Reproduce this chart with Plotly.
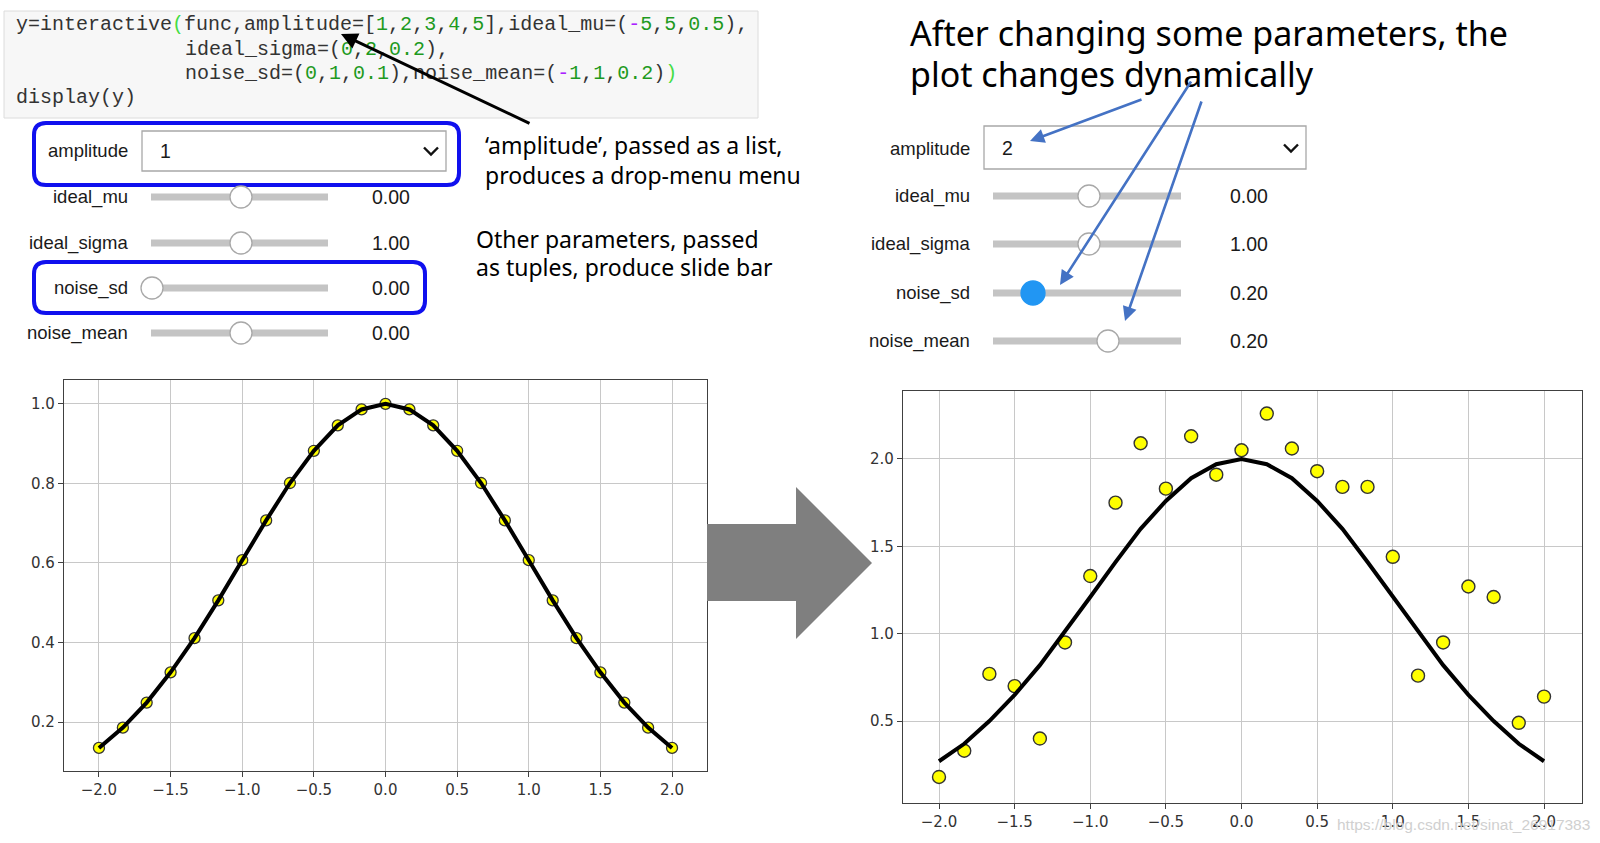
import plotly.graph_objects as go
from plotly.subplots import make_subplots

W, H = 1600, 843

# sample points (same x grid for both plots)
x_vals = [-2.0, -1.833, -1.667, -1.5, -1.333, -1.167, -1.0, -0.833, -0.667, -0.5, -0.333, -0.167,
          0.0, 0.167, 0.333, 0.5, 0.667, 0.833, 1.0, 1.167, 1.333, 1.5, 1.667, 1.833, 2.0]

# amplitude=1, no noise
left_ideal = [0.135, 0.186, 0.249, 0.325, 0.411, 0.506, 0.607, 0.707, 0.801, 0.882, 0.946, 0.986,
              1.0, 0.986, 0.946, 0.882, 0.801, 0.707, 0.607, 0.506, 0.411, 0.325, 0.249, 0.186, 0.135]
left_points = [0.135, 0.186, 0.249, 0.325, 0.411, 0.506, 0.607, 0.707, 0.801, 0.882, 0.946, 0.986,
               1.0, 0.986, 0.946, 0.882, 0.801, 0.707, 0.607, 0.506, 0.411, 0.325, 0.249, 0.186, 0.135]

# amplitude=2, noise_sd=0.2, noise_mean=0.2
right_ideal = [0.27, 0.37, 0.50, 0.65, 0.82, 1.01, 1.21, 1.41, 1.60, 1.76, 1.89, 1.97,
               2.0, 1.97, 1.89, 1.76, 1.60, 1.41, 1.21, 1.01, 0.82, 0.65, 0.50, 0.37, 0.27]
right_points = [0.18, 0.33, 0.77, 0.70, 0.40, 0.95, 1.33, 1.75, 2.09, 1.83, 2.13, 1.91,
                2.05, 2.26, 2.06, 1.93, 1.84, 1.84, 1.44, 0.76, 0.95, 1.27, 1.21, 0.49, 0.64]

x_ticks = [-2.0, -1.5, -1.0, -0.5, 0.0, 0.5, 1.0, 1.5, 2.0]
left_y_ticks = [0.2, 0.4, 0.6, 0.8, 1.0]
right_y_ticks = [0.5, 1.0, 1.5, 2.0]

# widget states
slider_names = ["ideal_mu", "ideal_sigma", "noise_sd", "noise_mean"]
left_amplitude = "1"
left_slider_vals = ["0.00", "1.00", "0.00", "0.00"]
right_amplitude = "2"
right_slider_vals = ["0.00", "1.00", "0.20", "0.20"]


def X(p):
    return p / W


def Y(p):
    return 1 - p / H


def lab(v):
    return f"{v:.1f}".replace("-", "\u2212")


fig = make_subplots(rows=1, cols=2)

fig.add_trace(go.Scatter(x=x_vals, y=left_points, mode="markers",
                         marker=dict(color="#ffff00", size=11, line=dict(color="#333333", width=1.3))),
              row=1, col=1)
fig.add_trace(go.Scatter(x=x_vals, y=left_ideal, mode="lines", line=dict(color="black", width=4)),
              row=1, col=1)
fig.add_trace(go.Scatter(x=x_vals, y=right_points, mode="markers",
                         marker=dict(color="#ffff00", size=13, line=dict(color="#333333", width=1.4))),
              row=1, col=2)
fig.add_trace(go.Scatter(x=x_vals, y=right_ideal, mode="lines", line=dict(color="black", width=4)),
              row=1, col=2)

axis_style = dict(showgrid=True, gridcolor="#c8c8c8", gridwidth=1, zeroline=False,
                  showline=True, linecolor="#404040", linewidth=1.4, mirror=True,
                  ticks="outside", ticklen=5, tickcolor="#404040",
                  tickfont=dict(family="DejaVu Sans", size=15, color="#333333"))

fig.update_xaxes(axis_style, tickvals=x_ticks, ticktext=[lab(v) for v in x_ticks])
fig.update_xaxes(domain=[X(64), X(707)], range=[-2.244, 2.244], row=1, col=1)
fig.update_yaxes(axis_style, domain=[Y(771), Y(380)], range=[0.077, 1.060],
                 tickvals=left_y_ticks, ticktext=[lab(v) for v in left_y_ticks], row=1, col=1)
fig.update_xaxes(domain=[X(903), X(1582)], range=[-2.238, 2.251], row=1, col=2)
fig.update_yaxes(axis_style, domain=[Y(803), Y(391)], range=[0.031, 2.389],
                 tickvals=right_y_ticks, ticktext=[lab(v) for v in right_y_ticks], row=1, col=2)

shapes = []
annos = []


def rect(x0, y0, x1, y1, **kw):
    shapes.append(dict(type="rect", xref="paper", yref="paper",
                       x0=X(x0), x1=X(x1), y0=Y(y1), y1=Y(y0), **kw))


def rrect(x0, y0, x1, y1, r, color, width):
    pts = (f"M {X(x0 + r)},{Y(y0)} L {X(x1 - r)},{Y(y0)} Q {X(x1)},{Y(y0)} {X(x1)},{Y(y0 + r)} "
           f"L {X(x1)},{Y(y1 - r)} Q {X(x1)},{Y(y1)} {X(x1 - r)},{Y(y1)} "
           f"L {X(x0 + r)},{Y(y1)} Q {X(x0)},{Y(y1)} {X(x0)},{Y(y1 - r)} "
           f"L {X(x0)},{Y(y0 + r)} Q {X(x0)},{Y(y0)} {X(x0 + r)},{Y(y0)} Z")
    shapes.append(dict(type="path", xref="paper", yref="paper", path=pts,
                       line=dict(color=color, width=width)))


def text(x, y, s, size=18.5, family="Liberation Sans, Arial", color="#1a1a1a", anchor="left"):
    annos.append(dict(xref="paper", yref="paper", x=X(x), y=Y(y), text=s, showarrow=False,
                      xanchor=anchor, yanchor="middle", font=dict(family=family, size=size, color=color)))


def arrow(hx, hy, tx, ty, color, width):
    annos.append(dict(xref="paper", yref="paper", x=X(hx), y=Y(hy), ax=tx - hx, ay=ty - hy,
                      axref="pixel", ayref="pixel", text="", showarrow=True,
                      arrowhead=2, arrowsize=1.1, arrowwidth=width, arrowcolor=color))


def chevron(x, y):
    shapes.append(dict(type="path", xref="paper", yref="paper",
                       path=f"M {X(x - 7)},{Y(y - 3.5)} L {X(x)},{Y(y + 3.5)} L {X(x + 7)},{Y(y - 3.5)}",
                       line=dict(color="#111111", width=2.4)))


def widgets(label_x, box, amp_y, amp, track, rows_y, knob_x, vals, val_x, knob_fill):
    bx0, by0, bx1, by1 = box
    text(label_x, amp_y, "amplitude", anchor="right")
    rect(bx0, by0, bx1, by1, line=dict(color="#a8a8a8", width=1.3), fillcolor="white")
    text(bx0 + 16, amp_y, amp, size=19.5)
    chevron(bx1 - 15, amp_y)
    for name, yy, kx, val, fill in zip(slider_names, rows_y, knob_x, vals, knob_fill):
        text(label_x, yy, name, anchor="right")
        shapes.append(dict(type="line", xref="paper", yref="paper", x0=X(track[0]), x1=X(track[1]),
                           y0=Y(yy), y1=Y(yy), line=dict(color="#c4c4c4", width=7)))
        border = "#a8a8a8" if fill == "white" else fill
        r = 11 if fill == "white" else 12
        shapes.append(dict(type="circle", xref="paper", yref="paper",
                           x0=X(kx - r), x1=X(kx + r), y0=Y(yy + r), y1=Y(yy - r),
                           fillcolor=fill, line=dict(color=border, width=1.3)))
        text(val_x, yy, val, size=19.5, anchor="right")


# code cell
rect(4, 11, 758, 118, line=dict(color="#dcdcdc", width=1), fillcolor="#f7f7f7")
G = '<span style="color:#1e9a1e">'
P = '<span style="color:#aa22ff">'
B = '<span style="color:#44dd44">'
E = "</span>"
code_lines = [
    (14, 24, f"y=interactive{B}({E}func,amplitude=[{G}1{E},{G}2{E},{G}3{E},{G}4{E},{G}5{E}],"
             f"ideal_mu=({P}-{E}{G}5{E},{G}5{E},{G}0.5{E}),"),
    (183, 49, f"ideal_sigma=({G}0{E},{G}2{E},{G}0.2{E}),"),
    (183, 73, f"noise_sd=({G}0{E},{G}1{E},{G}0.1{E}),noise_mean=({P}-{E}{G}1{E},{G}1{E},{G}0.2{E}){B}){E}"),
    (14, 98, "display(y)"),
]
for cx, cy, s in code_lines:
    text(cx, cy, s, size=20, family="Liberation Mono, Courier New", color="#333333")
arrow(341, 34, 531, 124, "black", 3)

# left widgets
rrect(34, 123, 459, 185, 12, "#1010ee", 4)
rrect(34, 262, 425, 313, 12, "#1010ee", 4)
widgets(130, (142, 131, 446, 171), 151, left_amplitude, (151, 328), [197, 243, 288, 333],
        [241, 241, 152, 241], left_slider_vals, 412, ["white"] * 4)

# right widgets
widgets(972, (984, 126, 1306, 169), 148, right_amplitude, (993, 1181), [196, 244, 293, 341],
        [1089, 1089, 1033, 1108], right_slider_vals, 1270, ["white", "white", "#2196f3", "white"])

# handwritten notes
hand = "Comic Sans MS, Noto Sans"
text(483, 145, "\u2018amplitude\u2019, passed as a list,", size=23, family=hand, color="black")
text(483, 175, "produces a drop-menu menu", size=23, family=hand, color="black")
text(474, 239, "Other parameters, passed", size=23, family=hand, color="black")
text(474, 267, "as tuples, produce slide bar", size=23, family=hand, color="black")
text(908, 33, "After changing some parameters, the", size=34, family=hand, color="black")
text(908, 74, "plot changes dynamically", size=34, family=hand, color="black")

# blue pointers
arrow(1030, 141, 1143, 99, "#4472c4", 2.6)
arrow(1060, 285, 1192, 80, "#4472c4", 2.6)
arrow(1125, 321, 1202, 100, "#4472c4", 2.6)

# big grey arrow between the plots
shapes.append(dict(type="path", xref="paper", yref="paper", fillcolor="#7f7f7f", line=dict(width=0),
                   path=(f"M {X(707)},{Y(524)} L {X(796)},{Y(524)} L {X(796)},{Y(487)} "
                         f"L {X(872)},{Y(563)} L {X(796)},{Y(639)} L {X(796)},{Y(601)} "
                         f"L {X(707)},{Y(601)} Z")))

text(1592, 824, "https://blog.csdn.net/sinat_26917383", size=15.5, color="#d0d0d0", anchor="right")

fig.update_layout(width=W, height=H, margin=dict(l=0, r=0, t=0, b=0),
                  paper_bgcolor="white", plot_bgcolor="white", showlegend=False,
                  shapes=shapes, annotations=annos)

fig.write_html("out.html", config={"displayModeBar": False},
               post_script="document.body.style.margin='0px';")
